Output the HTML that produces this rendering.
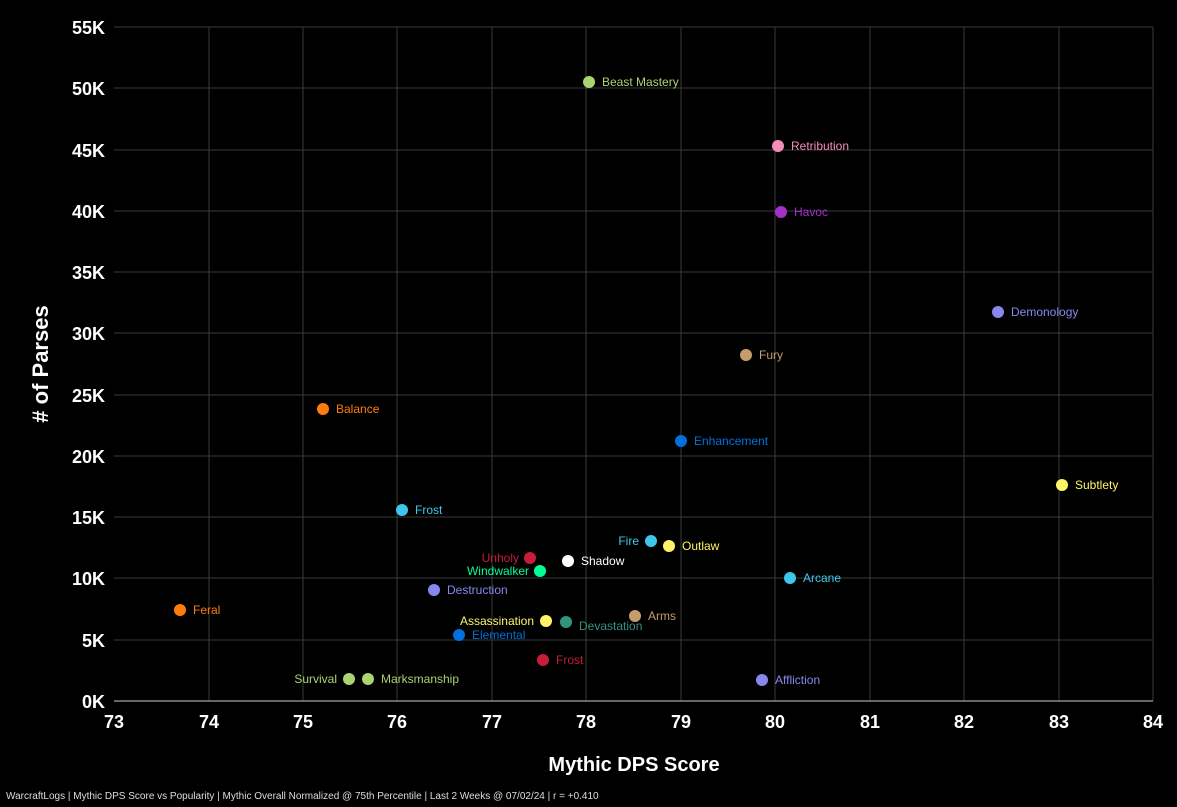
<!DOCTYPE html><html><head><style>body{margin:0;background:#000}svg{display:block}text{font-family:"Liberation Sans",sans-serif}</style></head><body>
<svg width="1177" height="807" xmlns="http://www.w3.org/2000/svg">
<rect width="1177" height="807" fill="#000"/>
<g stroke="#3a3a3a" stroke-width="1">
<line x1="209" y1="27" x2="209" y2="701"/><line x1="303" y1="27" x2="303" y2="701"/><line x1="397" y1="27" x2="397" y2="701"/><line x1="492" y1="27" x2="492" y2="701"/><line x1="586" y1="27" x2="586" y2="701"/><line x1="681" y1="27" x2="681" y2="701"/><line x1="775" y1="27" x2="775" y2="701"/><line x1="870" y1="27" x2="870" y2="701"/><line x1="964" y1="27" x2="964" y2="701"/><line x1="1059" y1="27" x2="1059" y2="701"/><line x1="1153" y1="27" x2="1153" y2="701"/>
<line x1="114" y1="27" x2="1153" y2="27"/><line x1="114" y1="88" x2="1153" y2="88"/><line x1="114" y1="150" x2="1153" y2="150"/><line x1="114" y1="211" x2="1153" y2="211"/><line x1="114" y1="272" x2="1153" y2="272"/><line x1="114" y1="333" x2="1153" y2="333"/><line x1="114" y1="395" x2="1153" y2="395"/><line x1="114" y1="456" x2="1153" y2="456"/><line x1="114" y1="517" x2="1153" y2="517"/><line x1="114" y1="578" x2="1153" y2="578"/><line x1="114" y1="640" x2="1153" y2="640"/>
</g>
<line x1="114" y1="701" x2="1153" y2="701" stroke="#ccc" stroke-width="1"/>
<g fill="#fff" font-weight="bold" font-size="18" text-anchor="end">
<text x="105" y="34">55K</text><text x="105" y="95">50K</text><text x="105" y="157">45K</text><text x="105" y="218">40K</text><text x="105" y="279">35K</text><text x="105" y="340">30K</text><text x="105" y="402">25K</text><text x="105" y="463">20K</text><text x="105" y="524">15K</text><text x="105" y="585">10K</text><text x="105" y="647">5K</text><text x="105" y="708">0K</text>
</g>
<g fill="#fff" font-weight="bold" font-size="18" text-anchor="middle">
<text x="114" y="728">73</text><text x="209" y="728">74</text><text x="303" y="728">75</text><text x="397" y="728">76</text><text x="492" y="728">77</text><text x="586" y="728">78</text><text x="681" y="728">79</text><text x="775" y="728">80</text><text x="870" y="728">81</text><text x="964" y="728">82</text><text x="1059" y="728">83</text><text x="1153" y="728">84</text>
<text x="634" y="771" font-size="20">Mythic DPS Score</text>
<text transform="translate(48,364) rotate(-90)" font-size="22"># of Parses</text>
</g>
<text x="6" y="799" fill="#ddd" font-size="10">WarcraftLogs | Mythic DPS Score vs Popularity | Mythic Overall Normalized @ 75th Percentile | Last 2 Weeks @ 07/02/24 | r = +0.410</text>
<g font-size="12">
<g fill="#aad372"><circle cx="589" cy="82" r="6"/><text x="602" y="86">Beast Mastery</text></g>
<g fill="#f48cba"><circle cx="778" cy="146" r="6"/><text x="791" y="150">Retribution</text></g>
<g fill="#a330c9"><circle cx="781" cy="212" r="6"/><text x="794" y="216">Havoc</text></g>
<g fill="#8788ee"><circle cx="998" cy="312" r="6"/><text x="1011" y="316">Demonology</text></g>
<g fill="#c69b6d"><circle cx="746" cy="355" r="6"/><text x="759" y="359">Fury</text></g>
<g fill="#ff7c0a"><circle cx="323" cy="409" r="6"/><text x="336" y="413">Balance</text></g>
<g fill="#0070dd"><circle cx="681" cy="441" r="6"/><text x="694" y="445">Enhancement</text></g>
<g fill="#fff468"><circle cx="1062" cy="485" r="6"/><text x="1075" y="489">Subtlety</text></g>
<g fill="#3fc7eb"><circle cx="402" cy="510" r="6"/><text x="415" y="514">Frost</text></g>
<g fill="#3fc7eb"><circle cx="651" cy="541" r="6"/><text x="639" y="545" text-anchor="end">Fire</text></g>
<g fill="#fff468"><circle cx="669" cy="546" r="6"/><text x="682" y="550">Outlaw</text></g>
<g fill="#c41e3a"><circle cx="530" cy="558" r="6"/><text x="519" y="562" text-anchor="end">Unholy</text></g>
<g fill="#ffffff"><circle cx="568" cy="561" r="6"/><text x="581" y="565">Shadow</text></g>
<g fill="#00ff98"><circle cx="540" cy="571" r="6"/><text x="529" y="575" text-anchor="end">Windwalker</text></g>
<g fill="#3fc7eb"><circle cx="790" cy="578" r="6"/><text x="803" y="582">Arcane</text></g>
<g fill="#8788ee"><circle cx="434" cy="590" r="6"/><text x="447" y="594">Destruction</text></g>
<g fill="#ff7c0a"><circle cx="180" cy="610" r="6"/><text x="193" y="614">Feral</text></g>
<g fill="#c69b6d"><circle cx="635" cy="616" r="6"/><text x="648" y="620">Arms</text></g>
<g fill="#fff468"><circle cx="546" cy="621" r="6"/><text x="534" y="625" text-anchor="end">Assassination</text></g>
<g fill="#33937f"><circle cx="566" cy="622" r="6"/><text x="579" y="630">Devastation</text></g>
<g fill="#0070dd"><circle cx="459" cy="635" r="6"/><text x="472" y="639">Elemental</text></g>
<g fill="#c41e3a"><circle cx="543" cy="660" r="6"/><text x="556" y="664">Frost</text></g>
<g fill="#aad372"><circle cx="349" cy="679" r="6"/><text x="337" y="683" text-anchor="end">Survival</text></g>
<g fill="#aad372"><circle cx="368" cy="679" r="6"/><text x="381" y="683">Marksmanship</text></g>
<g fill="#8788ee"><circle cx="762" cy="680" r="6"/><text x="775" y="684">Affliction</text></g>
</g>
</svg></body></html>
